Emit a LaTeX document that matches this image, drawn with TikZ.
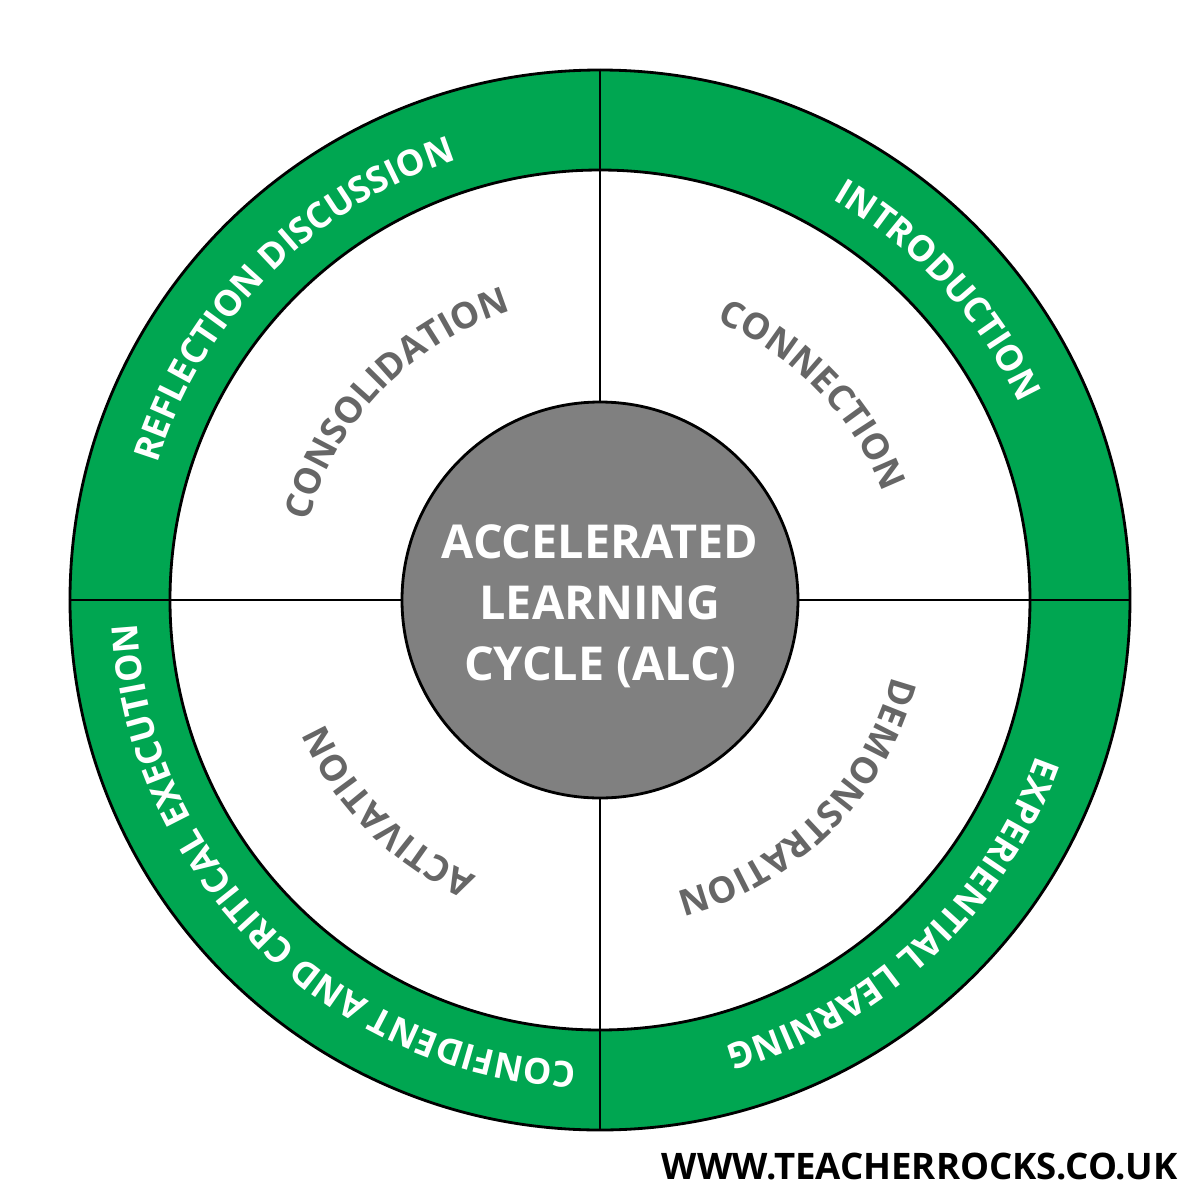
\documentclass[tikz,border=0pt]{standalone}
\usepackage{fontspec}
\setmainfont{Open Sans}
\usetikzlibrary{decorations.text}
\definecolor{ringgreen}{HTML}{00A651}
\definecolor{hubgray}{HTML}{808080}
\definecolor{labelgray}{HTML}{666666}
\newcommand{\ringfont}{\bfseries\fontsize{10.2}{12}\selectfont}
\newcommand{\innerfont}{\bfseries\fontsize{10.3}{12}\selectfont}
\tikzset{
  ringtext/.style={decorate, decoration={text along path, text align=center, text color=white, text={|\ringfont|#1}}},
  innertext/.style={decorate, decoration={text along path, text align=center, text color=labelgray, text={|\innerfont|#1}}},
  outline/.style={draw=black, line width=0.8pt},
}
\begin{document}
\begin{tikzpicture}
\useasboundingbox (-6,-6) rectangle (6,6);
\fill[white] (-6,-6) rectangle (6,6);
% rings
\node[circle, fill=ringgreen, outline, minimum size=10.6cm, inner sep=0pt] (outer) at (0,0) {};
\node[circle, fill=white, outline, minimum size=8.6cm, inner sep=0pt] (inner) at (0,0) {};
\draw[outline] (outer.north) -- (outer.south);
\draw[outline] (outer.west) -- (outer.east);
\node[circle, fill=hubgray, outline, minimum size=3.96cm, inner sep=0pt] (hub) at (0,0) {};
\node[align=center, inner sep=0pt, font=\bfseries\fontsize{13.3}{17.4}\selectfont, text=white] (hubtext) at (0,-0.06)
  {ACCELERATED\\LEARNING\\CYCLE (ALC)};
% ring labels
\path[ringtext={REFLECTION DISCUSSION}] (180.5:4.63) arc[start angle=180.5, end angle=90.5, radius=4.63];
\path[ringtext={INTRODUCTION}] (87.5:4.63) arc[start angle=87.5, end angle=-2.5, radius=4.63];
\path[ringtext={EXPERIENTIAL LEARNING}] (-2:4.63) arc[start angle=-2, end angle=-92, radius=4.63];
\path[ringtext={CONFIDENT AND CRITICAL EXECUTION}] (270:4.63) arc[start angle=270, end angle=180, radius=4.63];
% inner labels
\path[innertext={CONSOLIDATION}] (181:3.02) arc[start angle=181, end angle=91, radius=3.02];
\path[innertext={CONNECTION}] (89:3.02) arc[start angle=89, end angle=-1, radius=3.02];
\path[innertext={DEMONSTRATION}] (0:3.02) arc[start angle=0, end angle=-90, radius=3.02];
\path[innertext={ACTIVATION}] (270:3.02) arc[start angle=270, end angle=180, radius=3.02];
% footer
\node[anchor=base east, inner sep=0pt, font=\bfseries\fontsize{10.4}{12}\selectfont] (web) at (5.78,-5.79) {WWW.TEACHERROCKS.CO.UK};
\end{tikzpicture}
\end{document}
